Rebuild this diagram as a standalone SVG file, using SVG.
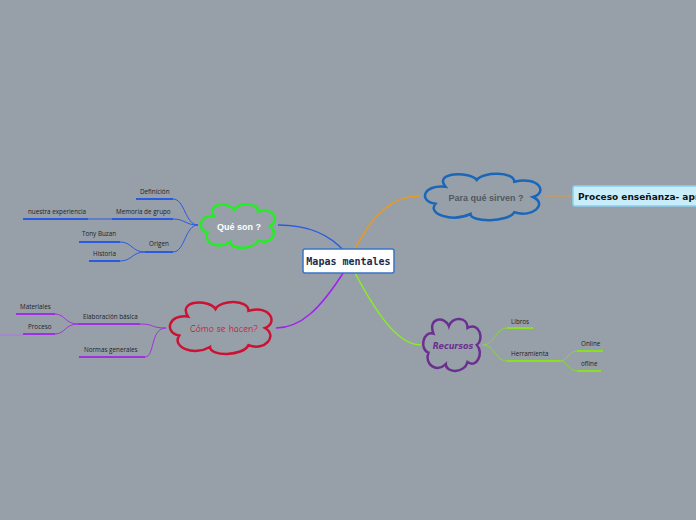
<svg xmlns="http://www.w3.org/2000/svg" width="696" height="520" viewBox="0 0 696 520">
<style>
.s{font-family:"Open Sans","DejaVu Sans",sans-serif;font-size:6.3px;fill:#222}
.cl{fill:#97a0a9;stroke-width:2.5}
.b{stroke:#2a5ae0;fill:none;stroke-width:1}
.bu{stroke:#2a5ae0;stroke-width:2}
.p{stroke:#a030e0;fill:none;stroke-width:1}
.pu{stroke:#a030e0;stroke-width:2}
.g{stroke:#88e020;fill:none;stroke-width:0.8}
.gu{stroke:#88e020;stroke-width:2}
</style>
<defs>
<path id="cloud" vector-effect="non-scaling-stroke" d="M -30,-12 C -40,-30 -10,-30 -5,-20 C 0,-30 25,-30 25,-18 C 45,-25 52,-5 40,0 C 52,8 40,25 25,18 C 20,30 -10,30 -10,20 C -25,30 -45,20 -38,8 C -52,5 -48,-15 -30,-12 Z"/>
</defs>
<rect width="696" height="520" fill="#97a0a9"/>
<g id="connectors">
<path d="M345 252 C330 235 310 225 278 225" stroke="#2a5ae0" stroke-width="1.5" fill="none"/>
<path d="M345 270 C320 310 300 328 276 328" stroke="#a020f0" stroke-width="1.5" fill="none"/>
<path d="M355 249 C375 210 395 196 420 196" stroke="#e89a20" stroke-width="1.5" fill="none"/>
<path d="M546 196 L573 196" stroke="#e89a20" stroke-width="0.8" fill="none"/>
<path d="M355 273 C380 320 400 345 421 345" stroke="#88f020" stroke-width="1.5" fill="none"/>
<path class="b" d="M198 225 C185 225 185 199 173 199 M198 225 C185 225 185 219 173 219 M198 225 C185 225 185 252 173 252 M145 252 C132 252 132 242 120 242 M145 252 C132 252 132 261 120 261 M112 219 L88 219"/>
<path class="p" d="M166 328 C150 328 155 324 140 324 M166 328 C150 328 155 357 145 357 M78 324 C65 324 65 314 55 314 M78 324 C65 324 65 334 55 334"/>
<path d="M0 335 L23 335" stroke="#b070e8" stroke-width="1"/>
<path class="g" d="M483 345 C495 345 495 328 507 328 M483 345 C495 345 495 361 507 361 M560 361 C568 361 568 351 577 351 M560 361 C568 361 568 371 577 371"/>
</g>
<g id="center"><rect x="303" y="249" width="91" height="24" rx="2" fill="#fff" stroke="#3a74c8" stroke-width="1.5"/><text x="348.5" y="265" text-anchor="middle" font-family="DejaVu Sans Mono,monospace" font-weight="bold" font-size="10" fill="#1a2a50">Mapas mentales</text></g>
<g id="queson"><use href="#cloud" transform="translate(238,226) scale(0.8,0.8)" class="cl" stroke="#22ee22"/><text x="239" y="230" text-anchor="middle" font-family="Liberation Sans,sans-serif" font-weight="bold" font-size="9" fill="#fff">Qué son ?</text></g>
<g id="como"><use href="#cloud" transform="translate(221,328) scale(1.1,0.95)" class="cl" stroke="#cc1133"/><text x="224" y="332" text-anchor="middle" font-family="Comic Neue,DejaVu Sans,sans-serif" font-size="9.5" fill="#cc1133">Cómo se hacen?</text></g>
<g id="para"><use href="#cloud" transform="translate(483,197) scale(1.25,0.85)" class="cl" stroke="#1a66b8"/><text x="486" y="201" text-anchor="middle" font-family="Liberation Sans,sans-serif" font-weight="bold" font-size="9" fill="#505860">Para qué sirven ?</text></g>
<g id="recursos"><use href="#cloud" transform="translate(452,345) scale(0.62,0.95)" class="cl" stroke="#6a3090"/><text x="453" y="349" text-anchor="middle" font-family="DejaVu Sans,sans-serif" font-style="italic" font-weight="bold" font-size="8" fill="#6a3090">Recursos</text></g>
<g id="proceso"><rect x="573" y="186" width="130" height="20" rx="2" fill="#c8eefc" stroke="#8ccff0" stroke-width="1.5"/><text x="578" y="199.5" font-family="DejaVu Sans,sans-serif" font-weight="bold" font-size="9" fill="#111">Proceso enseñanza- aprendizaje</text></g>
<g id="qs-children">
<line class="bu" x1="136" y1="199" x2="173" y2="199"/><text class="s" x="140" y="194">Definición</text>
<line class="bu" x1="112" y1="219" x2="173" y2="219"/><text class="s" x="116" y="214">Memoria de grupo</text>
<line class="bu" x1="23" y1="219" x2="88" y2="219"/><text class="s" x="28" y="214">nuestra experiencia</text>
<line class="bu" x1="145" y1="252" x2="173" y2="252"/><text class="s" x="149" y="246">Origen</text>
<line class="bu" x1="79" y1="242" x2="120" y2="242"/><text class="s" x="82" y="236">Tony Buzan</text>
<line class="bu" x1="89" y1="261" x2="120" y2="261"/><text class="s" x="93" y="256">Historia</text>
</g>
<g id="como-children">
<line class="pu" x1="78" y1="324" x2="140" y2="324"/><text class="s" x="83" y="319">Elaboración básica</text>
<line class="pu" x1="79" y1="357" x2="145" y2="357"/><text class="s" x="84" y="352">Normas generales</text>
<line class="pu" x1="16" y1="314" x2="55" y2="314"/><text class="s" x="20" y="309">Materiales</text>
<line class="pu" x1="23" y1="334" x2="55" y2="334"/><text class="s" x="28" y="329">Proceso</text>
</g>
<g id="rec-children">
<line class="gu" x1="507" y1="328" x2="533" y2="328"/><text class="s" x="511" y="324">Libros</text>
<line class="gu" x1="507" y1="361" x2="560" y2="361"/><text class="s" x="511" y="356">Herramienta</text>
<line class="gu" x1="577" y1="351" x2="603" y2="351"/><text class="s" x="581" y="346">Online</text>
<line class="gu" x1="577" y1="371" x2="601" y2="371"/><text class="s" x="581" y="366">ofline</text>
</g>
</svg>
